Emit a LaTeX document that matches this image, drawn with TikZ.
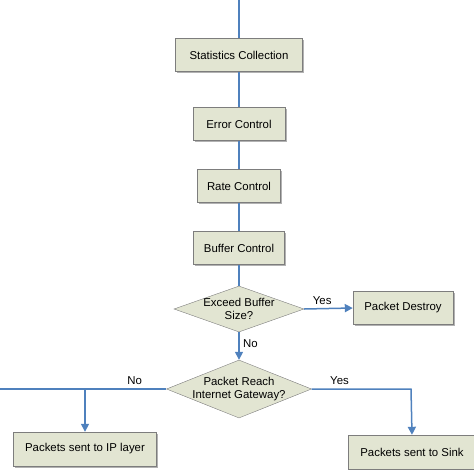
\documentclass[tikz,border=0pt]{standalone}
\usepackage{fontspec}
\setmainfont{Liberation Sans}
\usepackage{tikz}
\usetikzlibrary{arrows.meta,positioning,shapes.geometric,shadows}
\definecolor{boxfill}{RGB}{226,229,210}
\definecolor{boxline}{RGB}{125,125,125}
\definecolor{flowblue}{RGB}{79,129,189}

\begin{document}
\begin{tikzpicture}[
  x=1pt, y=-1pt,
  font=\fontsize{11.4}{13}\selectfont,
  s/.style={draw=boxline, fill=boxfill, minimum height=33pt, inner sep=2pt,
    drop shadow={shadow xshift=1.6pt, shadow yshift=-1.6pt, fill=black!30, opacity=1}},
  dec/.style={diamond, draw=boxline, fill=boxfill, inner sep=0pt},
  fl/.style={draw=flowblue, line width=1.5pt},
  pf/.style={fl, -{Triangle[length=8pt, width=8pt]}}
]
\useasboundingbox (0,0) rectangle (474,469);

\coordinate (top) at (239,0);
\node[s, minimum width=127pt] (stat) at (239,55) {Statistics Collection};
\node[s, minimum width=92pt] (err) at (239,124) {Error Control};
\node[s, minimum width=83pt] (rate) at (239,186) {Rate Control};
\node[s, minimum width=91pt] (buf) at (239,248) {Buffer Control};
\node[dec, minimum width=130pt, minimum height=46pt,
  label={[align=center]center:Exceed Buffer\\Size?}] (exceed) at (239,309) {};
\node[s, minimum width=100pt] (destroy) at (403,308) {Packet Destroy};
\node[dec, minimum width=145pt, minimum height=58pt,
  label={[align=center]center:Packet Reach\\Internet Gateway?}] (reach) at (239,389) {};
\node[s, minimum width=143pt, minimum height=34pt] (ip) at (85,449) {Packets sent to IP layer};
\node[s, minimum width=127pt, minimum height=34pt] (sink) at (412,452) {Packets sent to Sink};

\coordinate (edge) at (0,389);
\coordinate (ipturn) at (85,389);
\coordinate (sinkturn) at (411,389);

% main column
\draw[fl] (top) -- (stat);
\draw[fl] (stat) -- (err);
\draw[fl] (err) -- (rate);
\draw[fl] (rate) -- (buf);
\draw[fl] (buf) -- (exceed);

% decisions
\draw[pf] (exceed.east) -- node[above, pos=0.37]{Yes} (destroy.west);
\draw[pf] (exceed.south) -- node[right, pos=0.43]{No} (reach.north);
\draw[fl] (reach.west) -- node[above, pos=0.19]{No} (edge);
\draw[pf] (ipturn) -- (ip.north);
\draw[pf] (reach.east) -- node[above, pos=0.28]{Yes} (sinkturn) -- (sink.north);
\end{tikzpicture}
\end{document}
